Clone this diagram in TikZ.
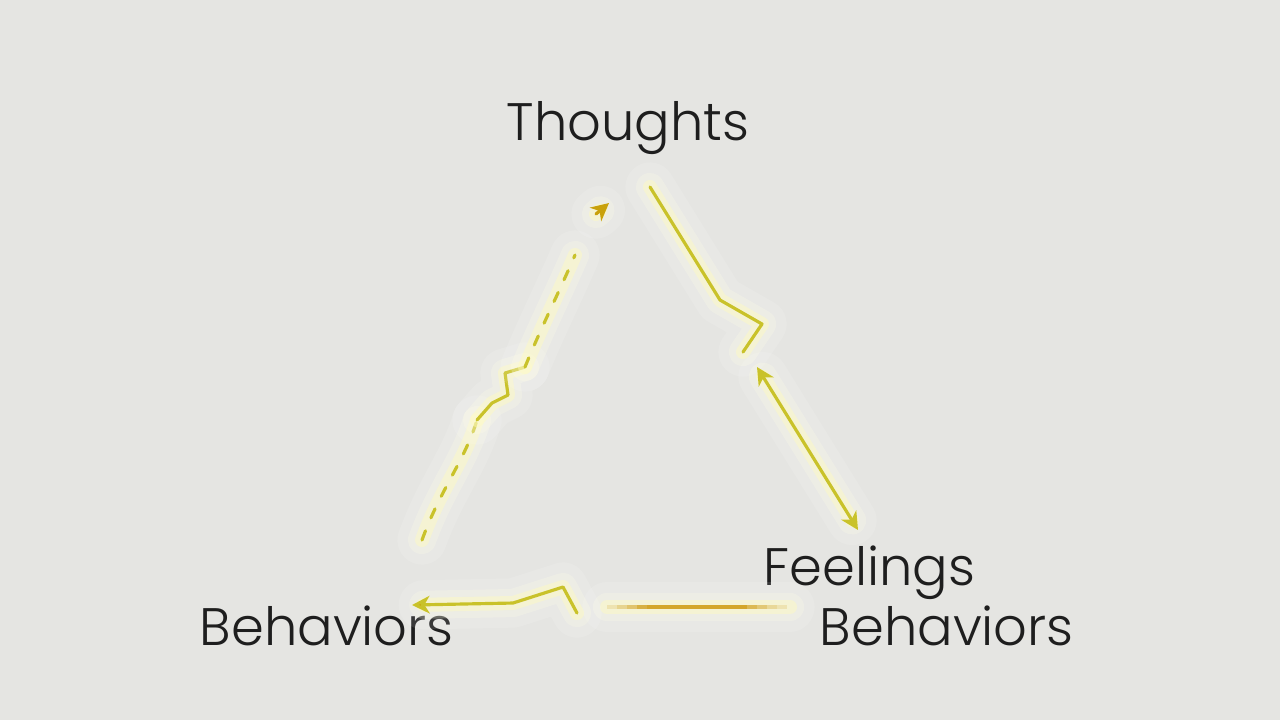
\documentclass[tikz,border=0pt]{standalone}
\usepackage{fontspec}
\setmainfont{Poppins}[UprightFont={* Light}]
\usepackage{tikz}
\usetikzlibrary{arrows.meta}
\definecolor{bgcol}{HTML}{E5E5E2}
\definecolor{linecol}{HTML}{C9C22A}
\definecolor{tipcol}{HTML}{C9A10C}
\definecolor{bandcol}{HTML}{D4A62A}
\definecolor{textcol}{HTML}{1E1E1E}
\tikzset{
  label/.style={text=textcol, inner sep=0pt, font=\fontsize{15}{18}\selectfont},
  glow/.style={preaction={draw, line width=14pt, white, opacity=0.12, line cap=round, line join=round},
               preaction={draw, line width=8pt, white!90!yellow, opacity=0.25, line cap=round, line join=round},
               preaction={draw, line width=4pt, white!75!yellow, opacity=0.45, line cap=round, line join=round}},
  arm/.style={glow, draw=linecol, line width=0.9pt, line join=round, line cap=round},
  tip/.style={-{Stealth[length=5pt, width=5pt, inset=1.5pt, fill=tipcol]}}
}

\begin{document}
\begin{tikzpicture}[x=0.01cm, y=-0.01cm]
    \fill[bgcol] (0, 0) rectangle (1280, 720);
    \useasboundingbox (0, 0) rectangle (1280, 720);
    \node[label] (thoughts) at (628, 128) {Thoughts};
    \node[label, anchor=base west] (feelings) at (763, 585) {Feelings};
    \node[label, anchor=base west] (behavR) at (819, 645) {Behaviors};
    \node[label, anchor=base west] (behavL) at (199, 645) {Behaviors};

    \coordinate (t1) at (650, 187);
    \coordinate (t2) at (720, 300);
    \coordinate (t3) at (762, 324);
    \coordinate (t4) at (743, 352);
    \coordinate (f1) at (757, 367);
    \coordinate (f2) at (858, 530);
    \coordinate (o1) at (790, 607);
    \coordinate (o2) at (607, 607);
    \coordinate (b1) at (577, 613);
    \coordinate (b2) at (563, 587);
    \coordinate (b3) at (513, 603);
    \coordinate (b4) at (412, 605);
    \coordinate (l1) at (422, 540);
    \coordinate (l2) at (477, 420);
    \coordinate (l3) at (492, 403);
    \coordinate (l4) at (508, 395);
    \coordinate (l5) at (505, 373);
    \coordinate (l6) at (525, 367);
    \coordinate (l7) at (575, 255);
    \coordinate (l8) at (596, 214);
    \coordinate (l9) at (609, 203);

    \draw[arm] (t1) -- (t2) -- (t3) -- (t4);
    \draw[arm, {Stealth[length=5pt, width=5pt, inset=1.5pt]}-{Stealth[length=5pt, width=5pt, inset=1.5pt]}] (f1) -- (f2);
    \draw[glow, draw=none] (o1) -- (o2);
    \foreach \x/\op in {607/0.2, 617/0.4, 627/0.6, 637/0.85, 747/0.75, 757/0.55, 767/0.35, 777/0.2}
      \draw[bandcol, line width=1pt, opacity=\op] (\x, 607) -- ++(10, 0);
    \draw[bandcol, line width=1pt] (647, 607) -- (747, 607);
    \draw[arm, tip] (b1) -- (b2) -- (b3) -- (b4);
    \draw[arm, dash pattern=on 2.8pt off 4pt] (l1) .. controls (440, 490) and (465, 460) .. (l2);
    \draw[arm] (l2) -- (l3) -- (l4) -- (l5) -- (l6);
    \draw[arm, dash pattern=on 2.8pt off 4pt] (l6) .. controls (540, 330) and (560, 290) .. (l7);
    \draw[arm, tip, draw=tipcol] (l8) -- (l9);
  \end{tikzpicture}
\end{document}
